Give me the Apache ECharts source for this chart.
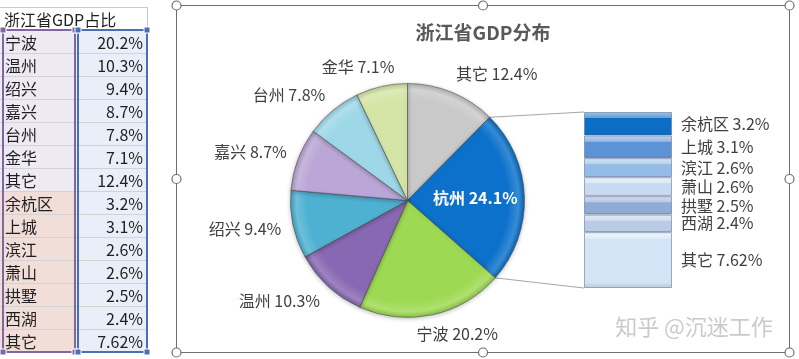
<!DOCTYPE html>
<html><head><meta charset="utf-8">
<script src="https://cdn.jsdelivr.net/npm/echarts@6/dist/echarts.min.js"></script>
<style>html,body{margin:0;padding:0;background:#fff}#c{width:799px;height:359px}</style>
</head><body><div id="c"></div>
<script>
// ---------- data ----------
const tableTitle = '浙江省GDP占比';
const chartTitle = '浙江省GDP分布';
const cityNames = ['宁波', '温州', '绍兴', '嘉兴', '台州', '金华', '其它'];
const cityValues = [20.2, 10.3, 9.4, 8.7, 7.8, 7.1, 12.4];
const groupName = '杭州';
const groupValue = 24.1;
const districtNames = ['余杭区', '上城', '滨江', '萧山', '拱墅', '西湖', '其它'];
const districtValues = [3.2, 3.1, 2.6, 2.6, 2.5, 2.4, 7.62];
const watermarkText = '知乎 @沉迷工作';

// ---------- styles / layout ----------
const FONT = "'Noto Sans CJK SC', 'Noto Sans', sans-serif";
const PIE = { cx: 407.5, cy: 200.5, r: 117 };
const GRID = { left: 584, top: 112, width: 88, height: 176 };
const cityColors = { '宁波': '#9DD952', '温州': '#8868B2', '绍兴': '#4EB1D2', '嘉兴': '#BAA6D7', '台州': '#9ED8E8', '金华': '#D5E5A7', '其它': '#C9C9C9' };
const groupColor = '#0B71CA';
const districtColors = ['#0B6DC3', '#5C92D6', '#94BCE7', '#C8DAF0', '#8FABD6', '#B8CCE6', '#D3E4F7'];

function hexToRgb(h) { h = h.replace('#', ''); return [0, 2, 4].map(i => parseInt(h.substr(i, 2), 16)); }
function mix(h, t, a) {
  const c = hexToRgb(h), d = hexToRgb(t);
  return 'rgb(' + c.map((v, i) => Math.round(v + (d[i] - v) * a)).join(',') + ')';
}

// pie order: 其它, 杭州, then the remaining cities clockwise
const otherIdx = cityNames.length - 1;
const pieNames = [cityNames[otherIdx], groupName].concat(cityNames.slice(0, otherIdx));
const pieValues = [cityValues[otherIdx], groupValue].concat(cityValues.slice(0, otherIdx));
const groupIdx = 1;
const pieTotal = pieValues.reduce((a, b) => a + b, 0);
const pieCum = []; { let acc = 0; pieValues.forEach(v => { pieCum.push(acc); acc += v; }); }

function sliceColor(base) {
  return {
    type: 'radial', x: PIE.cx, y: PIE.cy, r: PIE.r, global: true,
    colorStops: [
      { offset: 0, color: base },
      { offset: 0.86, color: base },
      { offset: 0.95, color: mix(base, '#ffffff', 0.18) },
      { offset: 1, color: mix(base, '#000000', 0.12) }
    ]
  };
}

const pieData = pieNames.map((n, i) => {
  const base = i === groupIdx ? groupColor : cityColors[n];
  const item = { name: n, value: pieValues[i], itemStyle: { color: sliceColor(base) } };
  if (i === groupIdx) item.label = { color: '#ffffff', fontWeight: 'bold', fontSize: 16 };
  return item;
});

function pieLabelLayout(p) {
  const i = p.dataIndex;
  const th = (pieCum[i] + pieValues[i] / 2) / pieTotal * Math.PI * 2;
  const ux = Math.sin(th), uy = -Math.cos(th);
  const w = p.labelRect.width, h = p.labelRect.height;
  if (i === groupIdx) {
    return { x: PIE.cx + ux * PIE.r * 0.58, y: PIE.cy + uy * PIE.r * 0.58, align: 'center', verticalAlign: 'middle' };
  }
  const ax = PIE.cx + ux * (PIE.r + 12), ay = PIE.cy + uy * (PIE.r + 12);
  const k = Math.min(1, Math.abs(ux) * 2.6);
  return { x: ax + Math.sign(ux) * w / 2 * k, y: ay + uy * h / 2, align: 'center', verticalAlign: 'middle' };
}

// bar (stacked from bottom, so reversed)
const barTotal = districtValues.reduce((a, b) => a + b, 0);
const pxPerUnit = GRID.height / barTotal;
const barSeries = districtNames.map((n, i) => i).reverse().map(i => {
  const base = districtColors[i];
  const frac = Math.min(0.4, 6 / (districtValues[i] * pxPerUnit));
  return {
    type: 'bar', name: districtNames[i], stack: 'hz', barWidth: '100%',
    xAxisIndex: 0, yAxisIndex: 0,
    data: [districtValues[i]],
    itemStyle: {
      color: {
        type: 'linear', x: 0, y: 0, x2: 0, y2: 1,
        colorStops: [
          { offset: 0, color: mix(base, '#ffffff', 0.6) },
          { offset: frac, color: mix(base, '#ffffff', 0.35) },
          { offset: Math.min(1, frac + 0.02), color: base },
          { offset: 0.9, color: base },
          { offset: 1, color: mix(base, '#000000', 0.12) }
        ]
      },
      borderColor: 'rgba(90,110,140,0.55)', borderWidth: 1
    },
    label: { show: true, position: 'right', distance: 9, formatter: '{a} {c}%', fontSize: 16, color: '#404040', fontFamily: FONT },
    emphasis: { disabled: true }
  };
});

// ---------- graphic: table, frame, connectors, title, watermark ----------
const graphics = [];
const T = { x0: 0, col: 76, x1: 147, headTop: 7, rowTop: 30, rowH: 23 };
const tNames = cityNames.concat(districtNames);
const tValues = cityValues.concat(districtValues);
tNames.forEach((n, i) => {
  const y = T.rowTop + i * T.rowH;
  graphics.push({ type: 'rect', shape: { x: T.x0, y: y, width: T.col - T.x0, height: T.rowH }, style: { fill: i < cityNames.length ? '#EEEAF4' : '#F2DED8' }, z: 0 });
  graphics.push({ type: 'rect', shape: { x: T.col, y: y, width: T.x1 - T.col, height: T.rowH }, style: { fill: '#E9EEF8' }, z: 0 });
});
for (let i = 0; i <= tNames.length; i++) {
  const y = T.rowTop + i * T.rowH + 0.5;
  graphics.push({ type: 'line', shape: { x1: T.x0, y1: y, x2: T.x1, y2: y }, style: { stroke: '#D2D2D2', lineWidth: 1 }, z: 1 });
}
graphics.push({ type: 'line', shape: { x1: T.x0, y1: T.headTop + 0.5, x2: T.x1 + 1, y2: T.headTop + 0.5 }, style: { stroke: '#C8C8C8', lineWidth: 1 }, z: 1 });
graphics.push({ type: 'line', shape: { x1: T.x1 + 0.5, y1: T.headTop, x2: T.x1 + 0.5, y2: T.rowTop }, style: { stroke: '#C8C8C8', lineWidth: 1 }, z: 1 });
graphics.push({ type: 'text', x: 4, y: (T.headTop + T.rowTop) / 2 + 1, style: { text: tableTitle, fontSize: 16, fill: '#1F1F1F', fontFamily: FONT, align: 'left', verticalAlign: 'middle' }, z: 3 });
tNames.forEach((n, i) => {
  const cy = T.rowTop + i * T.rowH + T.rowH / 2 + 1;
  graphics.push({ type: 'text', x: 5, y: cy, style: { text: n, fontSize: 16, fill: '#1F1F1F', fontFamily: FONT, align: 'left', verticalAlign: 'middle' }, z: 3 });
  graphics.push({ type: 'text', x: T.x1 - 4, y: cy, style: { text: tValues[i] + '%', fontSize: 16, fill: '#1F1F1F', fontFamily: FONT, align: 'right', verticalAlign: 'middle' }, z: 3 });
});
const tBottom = T.rowTop + tNames.length * T.rowH;
// selection borders
[[3, T.col - 1, '#7E66A8'], [T.col + 2, T.x1, '#4A6FB8']].forEach(([xa, xb, c]) => {
  graphics.push({ type: 'rect', shape: { x: xa, y: T.rowTop, width: xb - xa, height: tBottom - T.rowTop }, style: { fill: 'none', stroke: c, lineWidth: 2 }, z: 4 });
  [[xa, T.rowTop], [xb, T.rowTop], [xa, tBottom], [xb, tBottom]].forEach(([hx, hy]) => {
    graphics.push({ type: 'rect', shape: { x: hx - 3, y: hy - 3, width: 6, height: 6 }, style: { fill: c, stroke: '#ffffff', lineWidth: 1 }, z: 5 });
  });
});

// chart frame with handles
const F = { x: 176.5, y: 5.5, w: 613, h: 347 };
graphics.push({ type: 'rect', shape: { x: F.x, y: F.y, width: F.w, height: F.h }, style: { fill: 'none', stroke: '#6E6E6E', lineWidth: 1 }, z: 6 });
[[0, 0], [0.5, 0], [1, 0], [0, 0.5], [1, 0.5], [0, 1], [0.5, 1], [1, 1]].forEach(([a, b]) => {
  graphics.push({ type: 'circle', shape: { cx: F.x + a * F.w, cy: F.y + b * F.h, r: 4.5 }, style: { fill: '#ffffff', stroke: '#6E6E6E', lineWidth: 1.2 }, z: 7 });
});

// title
graphics.push({ type: 'text', x: F.x + F.w / 2, y: 33, style: { text: chartTitle, fontSize: 19, fontWeight: 'bold', fill: '#595959', fontFamily: FONT, align: 'center', verticalAlign: 'middle' }, z: 3 });

// connector lines between the 杭州 slice and the bar
const a0 = pieCum[groupIdx] / pieTotal * Math.PI * 2;
const a1 = (pieCum[groupIdx] + pieValues[groupIdx]) / pieTotal * Math.PI * 2;
[[a0, GRID.top], [a1, GRID.top + GRID.height]].forEach(([ang, by]) => {
  graphics.push({ type: 'line', shape: { x1: PIE.cx + Math.sin(ang) * PIE.r, y1: PIE.cy - Math.cos(ang) * PIE.r, x2: GRID.left, y2: by }, style: { stroke: '#A6A6A6', lineWidth: 1 }, z: 1 });
});

// watermark
graphics.push({ type: 'text', x: 694, y: 327, style: { text: watermarkText, fontSize: 22, fill: '#CACACA', fontFamily: FONT, align: 'center', verticalAlign: 'middle' }, z: 3 });

// ---------- chart ----------
const chart = echarts.init(document.getElementById('c'), null, { renderer: 'canvas' });
chart.setOption({
  animation: false,
  backgroundColor: '#ffffff',
  textStyle: { fontFamily: FONT },
  grid: { left: GRID.left, top: GRID.top, width: GRID.width, height: GRID.height, containLabel: false },
  xAxis: { type: 'category', data: [''], show: false },
  yAxis: { type: 'value', min: 0, max: barTotal, show: false },
  graphic: { elements: graphics },
  series: [
    {
      type: 'pie', center: [PIE.cx, PIE.cy], radius: PIE.r, startAngle: 90, clockwise: true,
      avoidLabelOverlap: false,
      data: pieData,
      itemStyle: { borderColor: 'rgba(70,70,70,0.55)', borderWidth: 1, shadowBlur: 4, shadowColor: 'rgba(0,0,0,0.25)', shadowOffsetY: 1 },
      label: { show: true, position: 'outside', formatter: '{b} {c}%', fontSize: 16, color: '#404040', fontFamily: FONT },
      labelLine: { show: false },
      labelLayout: pieLabelLayout,
      emphasis: { disabled: true }
    }
  ].concat(barSeries)
});
</script>
</body></html>
